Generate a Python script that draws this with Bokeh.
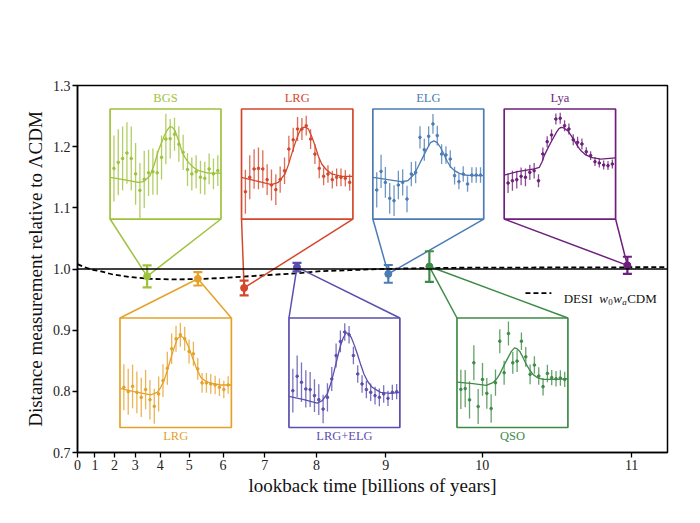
from bokeh.plotting import figure
from bokeh.models import Range1d, FixedTicker, Span, ColumnDataSource
from bokeh.core.properties import value
from bokeh.embed import file_html
from bokeh.resources import INLINE

FONT = "Liberation Serif"

# ---------------- main panel data ----------------
tracers = ["BGS", "LRG", "LRG", "LRG+ELG", "ELG", "QSO", "Lya"]
z_eff = [0.295, 0.510, 0.706, 0.930, 1.317, 1.491, 2.330]
ratio = [0.988, 0.984, 0.969, 1.003, 0.992, 1.004, 1.006]
ratio_err = [0.018, 0.011, 0.012, 0.007, 0.0145, 0.025, 0.014]
colors = ["#9fc23d", "#e6a12a", "#d5472b", "#5a4fae", "#4c7cb5", "#3e8b47", "#6e1f7c"]

lcdm_level = 1.0
w0wa_z = [0.0, 0.03, 0.06, 0.1, 0.15, 0.22, 0.3, 0.4, 0.5, 0.6, 0.7, 0.8,
          0.93, 1.03, 1.15, 1.25, 1.4, 1.6, 2.0, 2.5]
w0wa_ratio = [1.008, 1.003, 0.999, 0.996, 0.991, 0.987, 0.984, 0.983, 0.9835, 0.985,
              0.9875, 0.990, 0.993, 0.9965, 0.998, 0.9995, 1.001, 1.002, 1.0025, 1.003]

tick_lookback = ["0", "1", "2", "3", "4", "5", "6", "7", "8", "9", "10", "11"]
tick_z = [0.0, 0.074, 0.157, 0.245, 0.351, 0.474, 0.617, 0.793, 1.013, 1.306, 1.715, 2.348]
y_ticks = [0.7, 0.8, 0.9, 1.0, 1.1, 1.2, 1.3]

# ---------------- inset data (local units 0..100) ----------------
r_pts = [3.5, 7.4, 11.3, 15.2, 19.1, 23.0, 26.9, 30.8, 34.7, 38.6, 42.5, 46.4, 50.3,
         54.2, 58.1, 62.0, 65.9, 69.8, 73.7, 77.6, 81.5, 85.4, 89.3, 93.2, 97.1]

xi_pts = {
    "BGS": [46, 51.5, 55, 60, 55, 41, 26, 36, 42, 43, 42, 56, 72.7, 73, 77, 68, 60.6,
            45, 41, 43, 38, 37, 45.5, 41, 44],
    "LRG1": [36.7, 32.7, 37.6, 32.1, 27.5, 34.6, 25.4, 19.3, 30.6, 42.8, 54.1, 71.9, 81,
             84.7, 81, 69.4, 67.3, 53.5, 40.7, 40.7, 39.8, 38.8, 36.7, 34.6, 38.8],
    "LRG2": [24.8, 37.9, 45.5, 46, 45.5, 35.8, 30.9, 26.7, 35.8, 43.9, 63.6, 72, 81.8,
             81.8, 84.8, 72.7, 59, 46, 38.8, 40.9, 35.8, 37.9, 37.9, 37, 33.3],
    "LRGELG": [33.6, 46.8, 41.3, 35.2, 34.6, 29.1, 25.4, 16.8, 27.5, 44.3, 65.7, 78.6,
               87.2, 84.7, 65.7, 48.9, 39.8, 34.6, 32.1, 29.1, 27.5, 30.6, 26.6, 32.1, 32.7],
    "ELG": [26.4, 43.3, 33.3, 18.8, 16.7, 30.9, 33.3, 18.2, 40.9, 42.4, 74.2, 63, 75.2,
            86.4, 75.8, 59, 58.2, 54.5, 39.4, 34, 40.9, 31.8, 40, 40, 40],
    "QSO": [34.8, 35.5, 25.2, 59.1, 19.1, 43.9, 31.2, 17.3, 40.9, 78.8, 50, 85.8, 59.1,
            60.6, 78.8, 64.5, 48.5, 57, 47, 37.3, 49.4, 45.5, 44.5, 45.2, 43.9],
    "Lya": [32.7, 34.8, 35.8, 38.8, 37.9, 42.4, 43.9, 34.8, 59.1, 70.3, 76.4, 90.9, 91.5,
            84.8, 81.8, 72.1, 69.7, 68.2, 61.2, 57.6, 52.1, 50.9, 49.1, 48.5, 50],
}
xi_err = {
    "BGS": [30, 30, 29, 28, 29, 28, 25, 26, 21, 21, 20, 20, 23, 18, 15, 16, 16, 15, 15,
            15, 15, 15, 14, 14, 14],
    "LRG1": [21, 21, 20, 19, 18, 18, 18, 16, 16, 15, 15, 14, 12, 11, 11, 11, 11, 10, 9,
             9, 9, 8.5, 8, 8, 8],
    "LRG2": [20, 20, 18, 19, 17, 14, 14, 14, 12, 12, 12, 11, 11, 10, 9, 9, 9, 9, 8, 8,
             8, 8, 8, 7.5, 7.5],
    "LRGELG": [20, 19, 18, 17, 16, 15, 14, 13, 13, 11, 11, 10, 8, 8, 8, 8, 8, 8, 8, 8,
               8, 8, 7, 7, 7],
    "ELG": [16, 15, 14, 14, 14, 13, 12, 12, 11, 10, 10, 10, 9, 9, 9, 9, 8, 8, 8, 7, 7,
            7, 7, 7, 7],
    "QSO": [18, 17, 17, 16, 16, 15, 14, 13, 12, 11, 11, 11, 10, 10, 8, 9, 9, 8, 8, 8, 8,
            7, 7, 7, 7],
    "Lya": [9, 9, 8, 8, 8, 7, 7, 6, 6, 5, 5, 5, 5, 5, 5, 5, 5, 5, 4, 4, 4, 4, 4, 4, 4],
}
curve_r = {
    "BGS": [0, 13.5, 25.5, 30, 36, 40, 43.5, 47, 49.5, 52, 54, 56, 58.6, 61.5, 64.6,
            67.5, 70.6, 75, 79.6, 88.6, 100],
    "LRG1": [0, 12.6, 27.5, 33.5, 36.5, 39.5, 42.5, 45.5, 48.5, 51.5, 54.5, 57, 59, 62,
             65, 68.5, 72.5, 76.5, 81.4, 90.4, 100],
    "LRG2": [0, 12, 27, 33, 39, 42, 45, 48, 51, 53, 55.5, 57.5, 60, 63, 66, 69, 72, 76,
             81, 90, 100],
    "LRGELG": [0, 13.5, 25.5, 30, 34.5, 37.5, 40.5, 43.5, 46.5, 49, 51.5, 53.5, 56, 59,
               61.6, 64.5, 67.6, 71, 75, 82.6, 91.6, 100],
    "ELG": [0, 13.5, 25.5, 31.5, 37.5, 41, 45, 49, 52, 55, 58, 61, 64, 67, 70, 73.6, 78,
            82.6, 90, 100],
    "QSO": [0, 14.4, 26.4, 32.4, 35.5, 38.4, 42, 45.9, 49, 51.9, 54, 56.5, 59.5, 62.5,
            65.5, 68.5, 72.5, 77.5, 89.5, 100],
    "Lya": [0, 12, 27, 31.6, 34, 36, 40, 43.6, 47, 49, 51, 53, 57, 60, 63, 66, 69, 73,
            78, 86.6, 100],
}
curve_xi = {
    "BGS": [37.9, 35.5, 33.3, 33.9, 39.4, 50, 62, 71, 77, 81.5, 84, 83.5, 80.3, 72, 62,
            56, 51.5, 47, 44, 41.8, 41.8],
    "LRG1": [35.8, 32.7, 29.7, 32.1, 36.5, 42.8, 52, 62.7, 72.5, 81, 83.5, 82, 79.5,
             72.5, 64.2, 54.5, 45.9, 42.5, 40.4, 38.8, 38.8],
    "LRG2": [37.9, 34.8, 31.2, 33.3, 40.9, 49, 59, 68.5, 77, 81, 83.3, 83.5, 81.8, 75,
             66.7, 57, 50, 45, 41, 38.8, 38.8],
    "LRGELG": [28.4, 25.4, 22.3, 24.5, 30.6, 39.5, 50.5, 63, 74.9, 82, 86.5, 86, 82.6,
               75, 67.3, 58, 48.9, 42, 36.7, 32.1, 31.2, 32.1],
    "ELG": [37.9, 35.8, 33.9, 34.8, 40.9, 48, 56, 64, 69.5, 71, 69.5, 65, 59, 52.5, 47.5,
            44, 41.5, 40, 39.5, 39.4],
    "QSO": [41.5, 40, 38.5, 40.9, 44, 48.5, 56, 63.6, 69.5, 72.7, 72, 69.7, 64, 57.6,
            52.5, 48.5, 45.5, 43.9, 43.9, 44.5],
    "Lya": [40, 43, 45.5, 47, 52, 57.6, 66, 72.7, 79, 82, 83.3, 83, 80.3, 76, 71.2, 66,
            62, 58.5, 56, 54.5, 55.5],
}
inset_keys = ["BGS", "LRG1", "LRG2", "LRGELG", "ELG", "QSO", "Lya"]

# ---------------- layout of the insets (main-axis units) ----------------
box_left = [0.138, 0.180, 0.695, 0.896, 1.2515, 1.608, 1.808]
box_right = [0.608, 0.652, 1.167, 1.366, 1.7214, 2.078, 2.280]
box_top = [1.2616, 0.9199, 1.2616, 0.9199, 1.2616, 0.9199, 1.2616]
box_bottom = [1.0817, 0.7409, 1.0817, 0.7409, 1.0817, 0.7409, 1.0817]
box_above = [True, False, True, False, True, False, True]

p = figure(frame_width=590, frame_height=367,
           x_range=Range1d(0, 2.5), y_range=Range1d(0.7, 1.3),
           output_backend="svg", toolbar_location=None,
           min_border_left=77, min_border_right=22, min_border_top=85,
           min_border_bottom=58)
p.grid.visible = False
p.background_fill_color = "white"
p.border_fill_color = "white"
p.outline_line_color = "black"
p.outline_line_width = 1.5
p.outline_line_alpha = 1.0

p.xaxis.ticker = FixedTicker(ticks=tick_z)
p.xaxis.major_label_overrides = {z: lab for z, lab in zip(tick_z, tick_lookback)}
p.yaxis.ticker = FixedTicker(ticks=y_ticks)
p.yaxis.major_label_overrides = {v: f"{v:.1f}" for v in y_ticks}
for ax in (p.xaxis, p.yaxis):
    ax.axis_line_color = "black"
    ax.axis_line_width = 1.5
    ax.major_tick_line_color = "black"
    ax.major_tick_line_width = 1.3
    ax.major_tick_out = 5
    ax.major_tick_in = 0
    ax.minor_tick_line_color = None
    ax.major_label_text_font = FONT
    ax.major_label_text_font_size = "14px"
    ax.major_label_text_color = "#222222"
    ax.major_label_standoff = 2
    ax.axis_label_text_font = FONT
    ax.axis_label_text_font_size = "19px"
    ax.axis_label_text_font_style = "normal"
    ax.axis_label_text_color = "#111111"
p.xaxis.axis_label_standoff = 2
p.yaxis.axis_label_standoff = 4
p.xaxis.axis_label = "lookback time [billions of years]"
p.yaxis.axis_label = "Distance measurement relative to \u039bCDM"

# reference line and w0wa model
p.add_layout(Span(location=lcdm_level, dimension="width", line_color="black",
                  line_width=1.6))
p.line(w0wa_z, w0wa_ratio, line_color="black", line_width=1.8, line_dash="5 3")

# inset boxes, connectors, contents and labels
for i, key in enumerate(inset_keys):
    c = colors[i]
    x0, x1, y0, y1 = box_left[i], box_right[i], box_bottom[i], box_top[i]
    yc = y0 if box_above[i] else y1
    p.segment(x0=[x0, x1], y0=[yc, yc], x1=[z_eff[i]] * 2, y1=[ratio[i]] * 2,
              line_color=c, line_width=1.5)
    p.quad(left=[x0], right=[x1], bottom=[y0], top=[y1], fill_color=None,
           line_color=c, line_width=1.7)
    sub = p.subplot(x_source=Range1d(0, 100), y_source=Range1d(0, 100),
                    x_target=Range1d(x0, x1), y_target=Range1d(y0, y1))
    src = ColumnDataSource(dict(
        r=r_pts, xi=xi_pts[key],
        lo=[a - b for a, b in zip(xi_pts[key], xi_err[key])],
        hi=[a + b for a, b in zip(xi_pts[key], xi_err[key])]))
    sub.segment(x0="r", x1="r", y0="lo", y1="hi", source=src, line_color=c,
                line_width=1.3, line_alpha=0.8)
    sub.scatter("r", "xi", source=src, size=2.6, color=c)
    sub.line(curve_r[key], curve_xi[key], line_color=c, line_width=1.3)
    if box_above[i]:
        p.text(x=[(x0 + x1) / 2], y=[y1], text=[tracers[i]], text_color=c,
               text_font=value(FONT), text_font_size="12.5px", text_align="center",
               text_baseline="bottom", y_offset=-4)
    else:
        p.text(x=[(x0 + x1) / 2], y=[y0], text=[tracers[i]], text_color=c,
               text_font=value(FONT), text_font_size="12.5px", text_align="center",
               text_baseline="top", y_offset=2)

# main measurements with error bars
msrc = ColumnDataSource(dict(
    z=z_eff, r=ratio, c=colors,
    lo=[a - b for a, b in zip(ratio, ratio_err)],
    hi=[a + b for a, b in zip(ratio, ratio_err)]))
p.segment(x0="z", x1="z", y0="lo", y1="hi", source=msrc, line_color="c", line_width=2.2)
p.scatter("z", "lo", source=msrc, marker="dash", size=9, line_color="c", line_width=2.2)
p.scatter("z", "hi", source=msrc, marker="dash", size=9, line_color="c", line_width=2.2)
p.scatter("z", "r", source=msrc, marker="circle", size=7, fill_color="c", line_color="c")

# legend (drawn by hand to allow sub-scripts)
leg_x0, leg_x1, leg_y = 1.898, 2.008, 0.9604
leg_tx, leg_base = 2.060, 0.9513
p.line([leg_x0, leg_x1], [leg_y, leg_y], line_color="black", line_width=1.8,
       line_dash="5 3")
pieces = [("DESI", 0, 0, "13px", "normal"), ("w", 35.5, 0, "13px", "italic"),
          ("0", 44.5, 3, "9px", "normal"), ("w", 49.5, 0, "13px", "italic"),
          ("a", 58.5, 3, "9px", "italic"), ("CDM", 63.5, 0, "13px", "normal")]
for txt, dx, dy, fs, st in pieces:
    p.text(x=[leg_tx], y=[leg_base], text=[txt], x_offset=dx, y_offset=dy,
           text_font=value(FONT), text_font_size=fs, text_font_style=st,
           text_color="#111111", text_align="left", text_baseline="alphabetic")

open("out.html", "w").write(file_html(p, INLINE))
